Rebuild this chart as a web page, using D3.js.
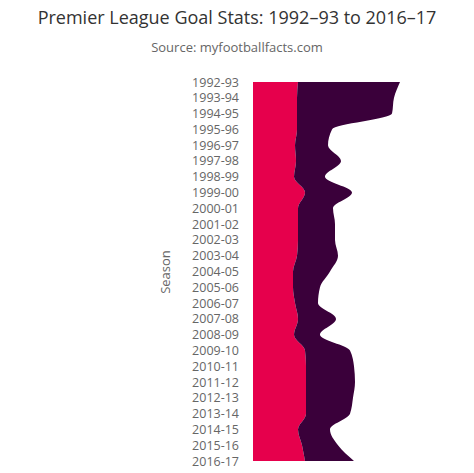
<!DOCTYPE html><html><head><meta charset="utf-8"><script src="https://cdn.jsdelivr.net/npm/d3@7"></script>
<style>body{margin:0;background:#fff}text{font-family:"Open Sans",sans-serif}</style></head><body><svg id="c" width="474" height="473"></svg><script>
const seasons=["1992-93","1993-94","1994-95","1995-96","1996-97","1997-98","1998-99","1999-00","2000-01","2001-02","2002-03","2003-04","2004-05","2005-06","2006-07","2007-08","2008-09","2009-10","2010-11","2011-12","2012-13","2013-14","2014-15","2015-16","2016-17"];
const home=[45,44,44,44,42,43,41,52,45,45,45,44,40,40,42,45,41,52,53,53,53,53,45,49,52];
const away=[102,97,95,35,33,45,31,47,35,37,37,41,37,27,23,38,26,45,48,49,47,44,32,36,49];
const svg=d3.select("#c");
const y=d3.scalePoint().domain(seasons).range([82,461]);
const x=d3.scaleLinear().domain([0,150]).range([253,403]);
const data=seasons.map((s,i)=>({s,home:home[i],away:away[i]}));
const series=d3.stack().keys(["home","away"])(data);
const colors=["#e6004c","#3a003a"];
const area=d3.area().y(d=>y(d.data.s)).x0(d=>x(d[0])).x1(d=>x(d[1])).curve(d3.curveMonotoneY);
svg.selectAll("path.a").data(series).join("path").attr("d",area).attr("fill",(d,i)=>colors[i]);
const ax=svg.append("g").attr("transform","translate(245,0)").call(d3.axisLeft(y).tickSize(0).tickPadding(6));
ax.select(".domain").remove();
ax.selectAll("text").attr("font-size",12.5).attr("fill","#666").style("font-family","Open Sans");
svg.append("text").attr("transform","translate(170,272) rotate(-90)").attr("text-anchor","middle").attr("font-size",13).attr("fill","#666").text("Season");
svg.append("text").attr("x",237).attr("y",24).attr("text-anchor","middle").attr("font-size",18).attr("fill","#333").text("Premier League Goal Stats: 1992–93 to 2016–17");
svg.append("text").attr("x",237).attr("y",52).attr("text-anchor","middle").attr("font-size",13).attr("fill","#666").text("Source: myfootballfacts.com");
</script></body></html>
